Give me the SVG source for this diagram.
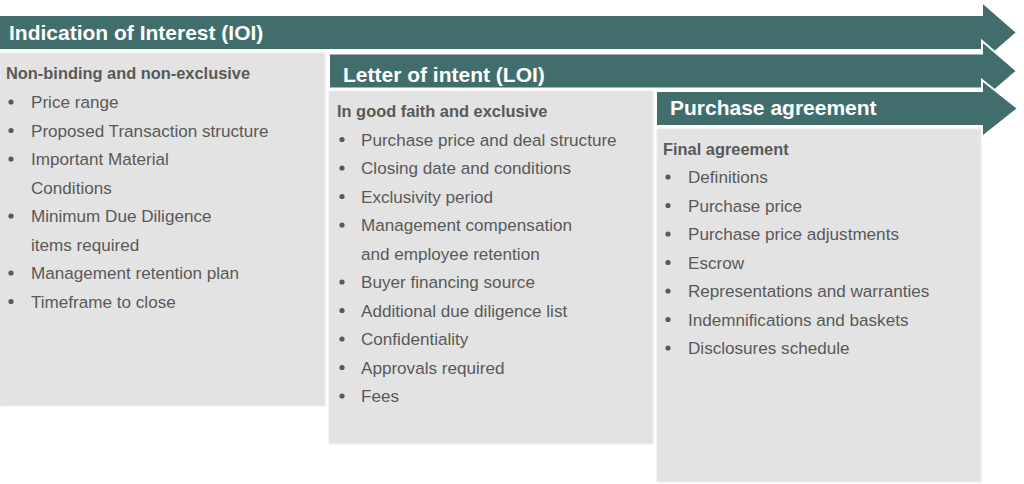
<svg xmlns="http://www.w3.org/2000/svg" width="1024" height="484" viewBox="0 0 1024 484">
<style>
.box{fill:#e3e3e3;stroke:#ececec;stroke-width:1}
.arrow{fill:#416e6c;stroke:#ffffff;stroke-width:2;stroke-linejoin:miter}
.title{font-family:"Liberation Sans",Arial,sans-serif;font-weight:bold;font-size:21px;fill:#ffffff}
.sub{font-family:"Liberation Sans",Arial,sans-serif;font-weight:bold;font-size:16.4px;fill:#595959}
.item{font-family:"Liberation Sans",Arial,sans-serif;font-size:17.1px;fill:#595959}
.dot{fill:#595959}
</style>
<rect width="1024" height="484" fill="#ffffff"/>
<g id="ioi">
<rect class="box" x="0" y="53" width="325" height="353"/>
<text class="sub" x="6" y="79">Non-binding and non-exclusive</text>
<g class="dot"><circle cx="11" cy="102" r="2.6"/><circle cx="11" cy="130.5" r="2.6"/><circle cx="11" cy="159" r="2.6"/><circle cx="11" cy="216" r="2.6"/><circle cx="11" cy="273" r="2.6"/><circle cx="11" cy="301.5" r="2.6"/></g>
<text class="item" x="31" y="108">Price range</text>
<text class="item" x="31" y="136.5">Proposed Transaction structure</text>
<text class="item" x="31" y="165">Important Material</text>
<text class="item" x="31" y="193.5">Conditions</text>
<text class="item" x="31" y="222">Minimum Due Diligence</text>
<text class="item" x="31" y="250.5">items required</text>
<text class="item" x="31" y="279">Management retention plan</text>
<text class="item" x="31" y="307.5">Timeframe to close</text>
</g>
<g id="loi">
<rect class="box" x="329" y="91" width="324" height="353"/>
<text class="sub" x="337" y="117">In good faith and exclusive</text>
<g class="dot"><circle cx="342" cy="139.5" r="2.6"/><circle cx="342" cy="168" r="2.6"/><circle cx="342" cy="196.5" r="2.6"/><circle cx="342" cy="225" r="2.6"/><circle cx="342" cy="282" r="2.6"/><circle cx="342" cy="310.5" r="2.6"/><circle cx="342" cy="339" r="2.6"/><circle cx="342" cy="367.5" r="2.6"/><circle cx="342" cy="396" r="2.6"/></g>
<text class="item" x="361" y="145.5">Purchase price and deal structure</text>
<text class="item" x="361" y="174">Closing date and conditions</text>
<text class="item" x="361" y="202.5">Exclusivity period</text>
<text class="item" x="361" y="231">Management compensation</text>
<text class="item" x="361" y="259.5">and employee retention</text>
<text class="item" x="361" y="288">Buyer financing source</text>
<text class="item" x="361" y="316.5">Additional due diligence list</text>
<text class="item" x="361" y="345">Confidentiality</text>
<text class="item" x="361" y="373.5">Approvals required</text>
<text class="item" x="361" y="402">Fees</text>
</g>
<g id="pa">
<rect class="box" x="657" y="129" width="324" height="353"/>
<text class="sub" x="663" y="155">Final agreement</text>
<g class="dot"><circle cx="668" cy="177" r="2.6"/><circle cx="668" cy="205.5" r="2.6"/><circle cx="668" cy="234" r="2.6"/><circle cx="668" cy="262.5" r="2.6"/><circle cx="668" cy="291" r="2.6"/><circle cx="668" cy="319.5" r="2.6"/><circle cx="668" cy="348" r="2.6"/></g>
<text class="item" x="688" y="183">Definitions</text>
<text class="item" x="688" y="211.5">Purchase price</text>
<text class="item" x="688" y="240">Purchase price adjustments</text>
<text class="item" x="688" y="268.5">Escrow</text>
<text class="item" x="688" y="297">Representations and warranties</text>
<text class="item" x="688" y="325.5">Indemnifications and baskets</text>
<text class="item" x="688" y="354">Disclosures schedule</text>
</g>
<g id="arrows">
<g id="arrow-ioi">
<polygon class="arrow" points="-2,15 982,15 982,2 1017,32.5 982,63 982,50 -2,50"/>
<text class="title" x="9" y="40">Indication of Interest (IOI)</text>
</g>
<g id="arrow-loi">
<polygon class="arrow" points="329,53.5 982,53.5 982,41 1017,71 982,101 982,88.5 329,88.5"/>
<text class="title" x="343" y="82">Letter of intent (LOI)</text>
</g>
<g id="arrow-pa">
<polygon class="arrow" points="656,91 982,91 982,80 1018,108.5 982,137 982,126 656,126"/>
<text class="title" x="670" y="115">Purchase agreement</text>
</g>
</g>
</svg>
